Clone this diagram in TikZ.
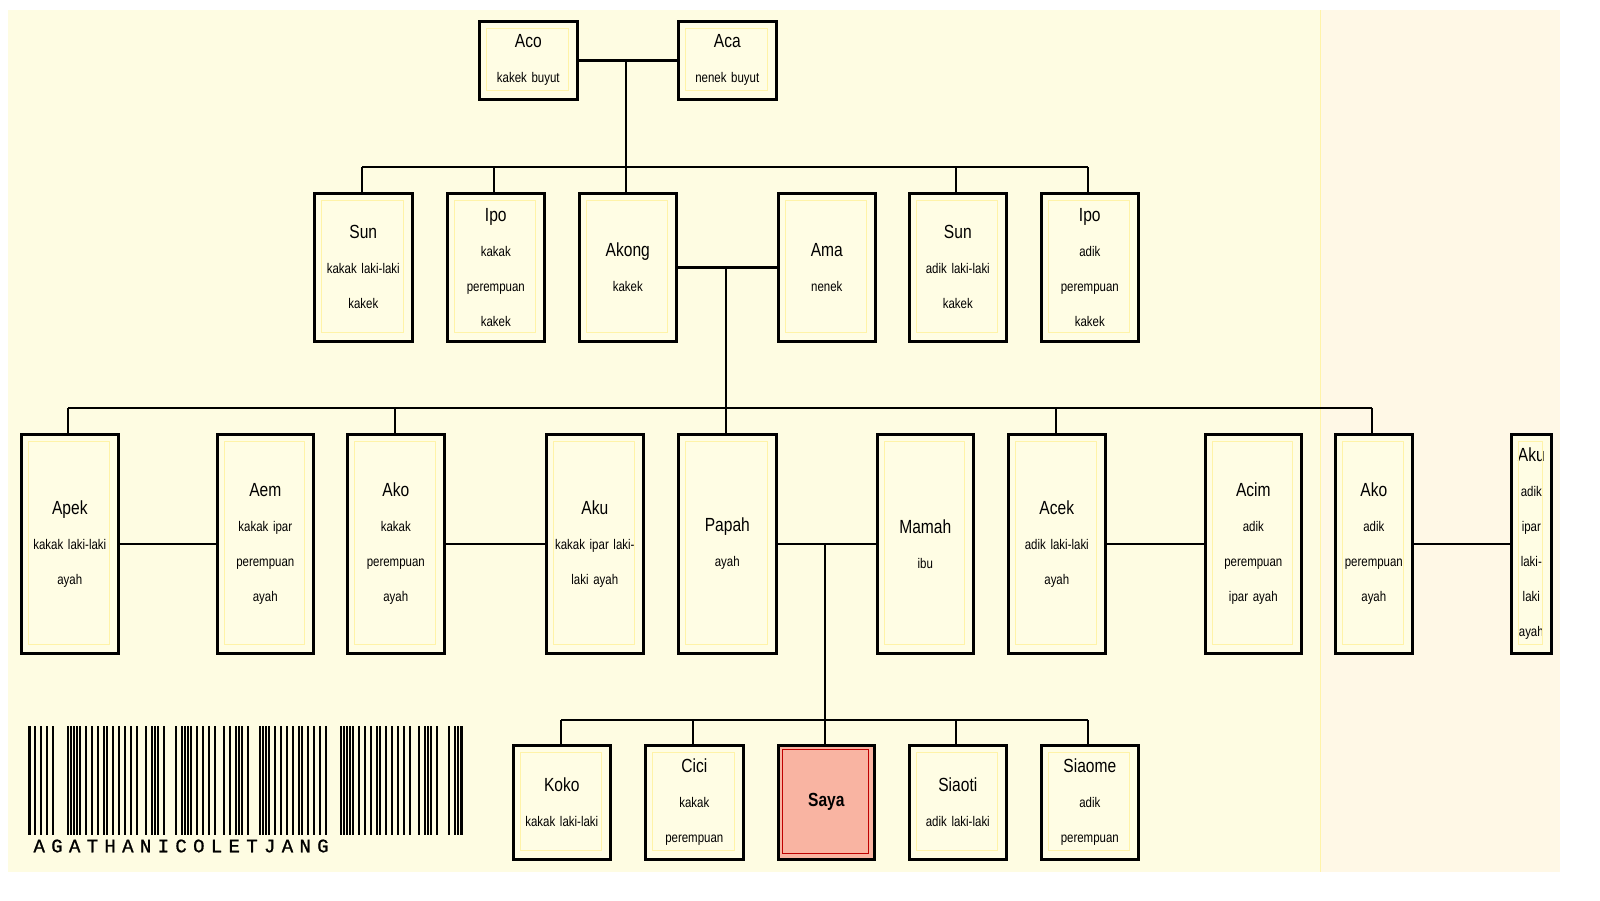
\documentclass[tikz,border=0pt]{standalone}
\usepackage{fontspec}
\setmainfont{Liberation Sans}[FakeStretch=0.82]
\newfontfamily\bcfont{Liberation Mono}[FakeBold=1]
\newcommand\nmf{\fontsize{19}{22}\selectfont}
\begin{document}
\begin{tikzpicture}[x=1pt,y=-1pt,
 box/.style={draw=black,line width=2.6pt,fill=boxfill,inner sep=0pt,anchor=north west,align=center,font=\fontsize{14}{35}\selectfont},
 ln/.style={line width=2.4pt}]
\definecolor{bgA}{HTML}{FEFCE2}
\definecolor{bgB}{HTML}{FFF8E6}
\definecolor{boxfill}{HTML}{FFFDE4}
\definecolor{inner}{HTML}{FFF3A8}
\definecolor{saya}{HTML}{F9B4A2}
\useasboundingbox (0,0) rectangle (1600,900);
\fill[white] (0,0) rectangle (1600,900);
\fill[bgA] (8,10) rectangle (1320,872);
\fill[bgB] (1320,10) rectangle (1560,872);
\draw[inner,line width=1pt] (1320,10) -- (1320,872);
\newcommand\bx[7]{% name, x1,y1,x2,y2, title, sub
 \pgfmathsetmacro\bw{#4-#2}\pgfmathsetmacro\bh{#5-#3}\pgfmathsetmacro\tw{#4-#2-2}
 \node[box,minimum width=\bw pt,minimum height=\bh pt,text width=\tw pt] (#1) at (#2,#3) {{\nmf #6}\\#7};
 \draw[inner,line width=1pt] (#2+8,#3+8) rectangle (#4-8,#5-8);
}
% row1
\bx{aco}{478}{20}{576}{98}{Aco}{kakek buyut}
\bx{aca}{677}{20}{775}{98}{Aca}{nenek buyut}
% row2
\bx{sun}{313}{192}{411}{340}{Sun}{kakak laki-laki\\kakek}
\bx{ipo}{446}{192}{543}{340}{Ipo}{kakak\\perempuan\\kakek}
\bx{akong}{578}{192}{675}{340}{Akong}{kakek}
\bx{ama}{777}{192}{874}{340}{Ama}{nenek}
\bx{sunb}{908}{192}{1005}{340}{Sun}{adik laki-laki\\kakek}
\bx{ipob}{1040}{192}{1137}{340}{Ipo}{adik\\perempuan\\kakek}
% row3
\bx{apek}{20}{433}{117}{652}{Apek}{kakak laki-laki\\ayah}
\bx{aem}{216}{433}{312}{652}{Aem}{kakak ipar\\perempuan\\ayah}
\bx{ako}{346}{433}{443}{652}{Ako}{kakak\\perempuan\\ayah}
\bx{aku}{545}{433}{642}{652}{Aku}{kakak ipar laki-\\laki ayah}
\bx{papah}{677}{433}{775}{652}{Papah}{ayah}
\bx{mamah}{876}{433}{972}{652}{Mamah}{ibu}
\bx{acek}{1007}{433}{1104}{652}{Acek}{adik laki-laki\\ayah}
\bx{acim}{1204}{433}{1300}{652}{Acim}{adik\\perempuan\\ipar ayah}
\bx{akob}{1334}{433}{1411}{652}{Ako}{adik\\perempuan\\ayah}
\bx{akub}{1510}{433}{1550}{652}{Aku}{adik\\ipar\\laki-\\laki\\ayah}
% row4
\bx{koko}{512}{744}{609}{858}{Koko}{kakak laki-laki}
\bx{cici}{644}{744}{742}{858}{Cici}{kakak\\perempuan}
\node[box,fill=saya,minimum width=96pt,minimum height=114pt] (saya) at (777,744) {\nmf\bfseries Saya};
\draw[red!75!black,line width=1pt] (782,749) rectangle (868,853);
\bx{siaoti}{908}{744}{1005}{858}{Siaoti}{adik laki-laki}
\bx{siaome}{1040}{744}{1137}{858}{Siaome}{adik\\perempuan}
% connectors
\coordinate (c1) at (626,59);
\draw[ln] (aco.east) -- (aca.west);
\draw[ln] (c1) -- (626,167);
\draw[ln] (362,167) -- (1088,167);
\foreach \n/\x in {sun/362,ipo/494,akong/626,sunb/956,ipob/1088}{\draw[ln] (\x,167) -- (\n.north -| \x,0);}
\draw[ln] (akong.east) -- (ama.west);
\draw[ln] (726,267) -- (726,408);
\draw[ln] (68,408) -- (1372,408);
\foreach \n/\x in {apek/68,ako/395,papah/726,acek/1056,akob/1372}{\draw[ln] (\x,408) -- (\n.north -| \x,0);}
\draw[ln] (apek.east) -- (aem.west);
\draw[ln] (ako.east) -- (aku.west);
\draw[ln] (papah.east) -- (mamah.west);
\draw[ln] (acek.east) -- (acim.west);
\draw[ln] (akob.east) -- (akub.west);
\draw[ln] (825,545) -- (825,720);
\draw[ln] (561,720) -- (1088,720);
\foreach \n/\x in {koko/561,cici/693,saya/825,siaoti/956,siaome/1088}{\draw[ln] (\x,720) -- (\n.north -| \x,0);}
% barcode
\foreach \i in {0,...,144}{
  \pgfmathtruncatemacro\k{mod(\i*7,13)+mod(\i*11,7)}
  \ifnum\k<10 \fill[black] (28+3*\i,726) rectangle (28+3*\i+2,835);\fi
}
\fill (28,726) rectangle (31,835);
\fill (460,726) rectangle (463,835);
\node[font=\bcfont\fontsize{19}{20}\selectfont,anchor=west] (bc) at (30,846) {A\,\,G\,\,A\,\,T\,\,H\,\,A\,\,N\,\,I\,\,C\,\,O\,\,L\,\,E\,\,T\,\,J\,\,A\,\,N\,\,G};
\end{tikzpicture}
\end{document}
